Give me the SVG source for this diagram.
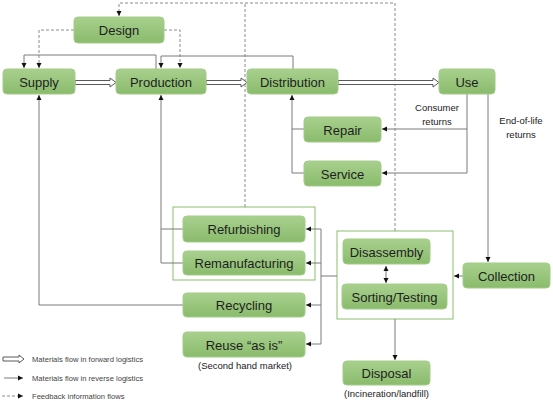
<svg xmlns="http://www.w3.org/2000/svg" width="553" height="401" viewBox="0 0 553 401">
<style>
.node rect{fill:url(#g);stroke:#a3cc8a;stroke-width:1}
.node text{font-family:"Liberation Sans",Arial,sans-serif;font-size:13px;fill:#1e1e1e;text-anchor:middle;dominant-baseline:central}
.lbl{font-family:"Liberation Sans",Arial,sans-serif;font-size:9.5px;fill:#222;text-anchor:middle;dominant-baseline:central}
.leg{font-family:"Liberation Sans",Arial,sans-serif;font-size:7.6px;fill:#444;dominant-baseline:central}
.sol{fill:none;stroke:#7a7a7a;stroke-width:1}
.dsh{fill:none;stroke:#8a8a8a;stroke-width:1;stroke-dasharray:3,2}
.fwd{fill:#fff;stroke:#5a5a5a;stroke-width:1}
.grp{fill:none;stroke:#8dbd6c;stroke-width:1}
</style>
<defs>
<linearGradient id="g" x1="0" y1="0" x2="0" y2="1">
<stop offset="0" stop-color="#a8d08e"/>
<stop offset="1" stop-color="#8abb6c"/>
</linearGradient>
<marker id="a" markerUnits="userSpaceOnUse" markerWidth="6" markerHeight="6" refX="5" refY="3" orient="auto">
<path d="M0,0.5 L5,3 L0,5.5 z" fill="#111"/>
</marker>
<marker id="as" markerUnits="userSpaceOnUse" markerWidth="6" markerHeight="6" refX="0" refY="3" orient="auto">
<path d="M5,0.5 L0,3 L5,5.5 z" fill="#111"/>
</marker>
</defs>
<rect width="553" height="401" fill="#fff"/>
<rect class="grp" x="173" y="207" width="142" height="73"/>
<rect class="grp" x="337" y="231" width="116" height="88"/>
<g id="connectors">
<path class="dsh" d="M74,30 H39 V68" marker-end="url(#a)"/>
<path class="dsh" d="M164,30 H180 V68" marker-end="url(#a)"/>
<path class="dsh" d="M395,231 V3 H119 V16" marker-end="url(#a)"/>
<path class="dsh" d="M245,207 V3"/>
<path class="sol" d="M156,69 V55 H24 V68" marker-end="url(#a)"/>
<path class="sol" d="M293,69 V56 H161 V68" marker-end="url(#a)"/>
<path class="sol" d="M183,305 H39 V95" marker-end="url(#a)"/>
<path class="sol" d="M183,229 H161"/>
<path class="sol" d="M183,263 H161 V95" marker-end="url(#a)"/>
<path class="sol" d="M304,129 H292"/>
<path class="sol" d="M304,173 H292 V95" marker-end="url(#a)"/>
<path class="sol" d="M467,94 V173 H382" marker-end="url(#a)"/>
<path class="sol" d="M467,129 H382" marker-end="url(#a)"/>
<path class="sol" d="M488,94 V262" marker-end="url(#a)"/>
<path class="sol" d="M463,276 H454" marker-end="url(#a)"/>
<path class="sol" d="M337,276 H321"/>
<path class="sol" d="M321,229 V344"/>
<path class="sol" d="M321,229 H306" marker-end="url(#a)"/>
<path class="sol" d="M321,263 H306" marker-end="url(#a)"/>
<path class="sol" d="M321,305 H306" marker-end="url(#a)"/>
<path class="sol" d="M321,344 H306" marker-end="url(#a)"/>
<path class="sol" d="M395,319 V360" marker-end="url(#a)"/>
<path class="sol" d="M386,266 V283" marker-start="url(#as)" marker-end="url(#a)"/>
<polygon class="fwd" points="75,80.5 110,80.5 110,78 116,82.5 110,87 110,84.5 75,84.5"/>
<polygon class="fwd" points="206,80.5 241,80.5 241,78 247,82.5 241,87 241,84.5 206,84.5"/>
<polygon class="fwd" points="338,80.5 433,80.5 433,78 439,82.5 433,87 433,84.5 338,84.5"/>
</g>
<g id="design" class="node"><rect x="74" y="17" width="90" height="26" rx="4"/><text x="119" y="30">Design</text></g>
<g id="supply" class="node"><rect x="3" y="69" width="72" height="25" rx="4"/><text x="39" y="82">Supply</text></g>
<g id="production" class="node"><rect x="116" y="69" width="90" height="25" rx="4"/><text x="161" y="82">Production</text></g>
<g id="distribution" class="node"><rect x="247" y="69" width="91" height="25" rx="4"/><text x="292.5" y="82">Distribution</text></g>
<g id="use" class="node"><rect x="439" y="69" width="56" height="25" rx="4"/><text x="467" y="82">Use</text></g>
<g id="repair" class="node"><rect x="304" y="117" width="77" height="25" rx="4"/><text x="342.5" y="130">Repair</text></g>
<g id="service" class="node"><rect x="304" y="161" width="77" height="25" rx="4"/><text x="342.5" y="174">Service</text></g>
<g id="refurbishing" class="node"><rect x="183" y="216" width="122" height="26" rx="4"/><text x="244" y="229">Refurbishing</text></g>
<g id="remanufacturing" class="node"><rect x="183" y="251" width="122" height="24" rx="4"/><text x="244" y="263">Remanufacturing</text></g>
<g id="recycling" class="node"><rect x="183" y="293" width="122" height="24" rx="4"/><text x="244" y="305">Recycling</text></g>
<g id="reuse" class="node"><rect x="183" y="332" width="122" height="25" rx="4"/><text x="244" y="345">Reuse “as is”</text></g>
<g id="disassembly" class="node"><rect x="343" y="239" width="87" height="25" rx="4"/><text x="386.5" y="252">Disassembly</text></g>
<g id="sorting" class="node"><rect x="342" y="284" width="105" height="25" rx="4"/><text x="394.5" y="297">Sorting/Testing</text></g>
<g id="collection" class="node"><rect x="463" y="263" width="87" height="25" rx="4"/><text x="506.5" y="276">Collection</text></g>
<g id="disposal" class="node"><rect x="343" y="361" width="87" height="24" rx="4"/><text x="386.5" y="373">Disposal</text></g>
<text class="lbl" x="437" y="107">Consumer</text>
<text class="lbl" x="437" y="121">returns</text>
<text class="lbl" x="521" y="120">End-of-life</text>
<text class="lbl" x="521" y="134">returns</text>
<text class="lbl" x="245" y="365">(Second hand market)</text>
<text class="lbl" x="386.5" y="393">(Incineration/landfill)</text>
<g id="legend">
<polygon class="fwd" points="3,357 19,357 19,355 24,359 19,363 19,361 3,361"/>
<path class="sol" d="M4,378 H23" marker-end="url(#a)"/>
<path class="dsh" d="M2,396 H23" marker-end="url(#a)"/>
<text class="leg" x="32" y="359">Materials flow in forward logistics</text>
<text class="leg" x="32" y="378">Materials flow in reverse logistics</text>
<text class="leg" x="32" y="396">Feedback information flows</text>
</g>
</svg>
